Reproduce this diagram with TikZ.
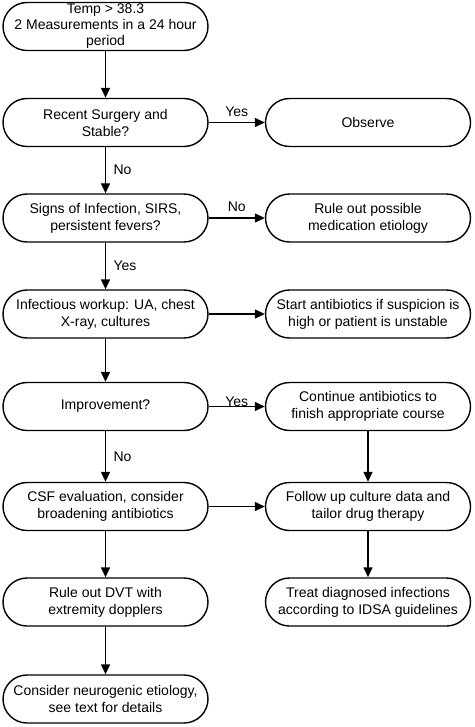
\documentclass[tikz,border=0pt]{standalone}
\usepackage{fontspec}
\setmainfont{Liberation Sans}
\usetikzlibrary{arrows.meta}
\begin{document}
\begin{tikzpicture}[x=1pt,y=-1pt,font=\fontsize{14}{17}\selectfont,
  stepbox/.style={draw,line width=1.4pt,rounded corners=24pt,minimum width=205pt,minimum height=48pt,align=center,inner sep=2pt},
  arr/.style={-{Triangle[length=10pt,width=9pt]},line width=1.4pt}]
\useasboundingbox (0,0) rectangle (474,727);
% left column
\node[stepbox,font=\fontsize{14}{16}\selectfont,inner ysep=0pt] (temp) at (105.5,26.5) {Temp > 38.3\\2 Measurements in a 24 hour\\period};
\node[stepbox] (surg) at (105.5,122.5) {Recent Surgery and\\Stable?};
\node[stepbox] (signs) at (105.5,218) {Signs of Infection, SIRS,\\persistent fevers?};
\node[stepbox] (workup) at (105.5,314) {Infectious workup: UA, chest\\X-ray, cultures};
\node[stepbox] (improve) at (105.5,406.5) {Improvement?};
\node[stepbox] (csf) at (105.5,506.5) {CSF evaluation, consider\\broadening antibiotics};
\node[stepbox] (dvt) at (105.5,602) {Rule out DVT with\\extremity dopplers};
\node[stepbox] (neuro) at (105.5,699) {Consider neurogenic etiology,\\see text for details};
% right column
\node[stepbox] (obs) at (368,122.5) {Observe};
\node[stepbox] (med) at (368,218) {Rule out possible\\medication etiology};
\node[stepbox] (start) at (368,314) {Start antibiotics if suspicion is\\high or patient is unstable};
\node[stepbox] (cont) at (368,406.5) {Continue antibiotics to\\finish appropriate course};
\node[stepbox] (follow) at (368,506.5) {Follow up culture data and\\tailor drug therapy};
\node[stepbox] (treat) at (368,602) {Treat diagnosed infections\\according to IDSA guidelines};
% connectors
\draw[arr] (temp) -- (surg);
\draw[arr] (surg) -- node[above=2pt] {Yes} (obs);
\draw[arr] (surg) -- node[right=4pt] {No} (signs);
\draw[arr] (signs) -- node[above=2pt] {No} (med);
\draw[arr] (signs) -- node[right=4pt] {Yes} (workup);
\draw[arr] (workup) -- (start);
\draw[arr] (workup) -- (improve);
\draw[arr] (improve) -- node[above=-4pt] {Yes} (cont);
\draw[arr] (improve) -- node[right=4pt] {No} (csf);
\draw[arr] (cont) -- (follow);
\draw[arr] (csf) -- (follow);
\draw[arr] (follow) -- (treat);
\draw[arr] (csf) -- (dvt);
\draw[arr] (dvt) -- (neuro);
\end{tikzpicture}
\end{document}
